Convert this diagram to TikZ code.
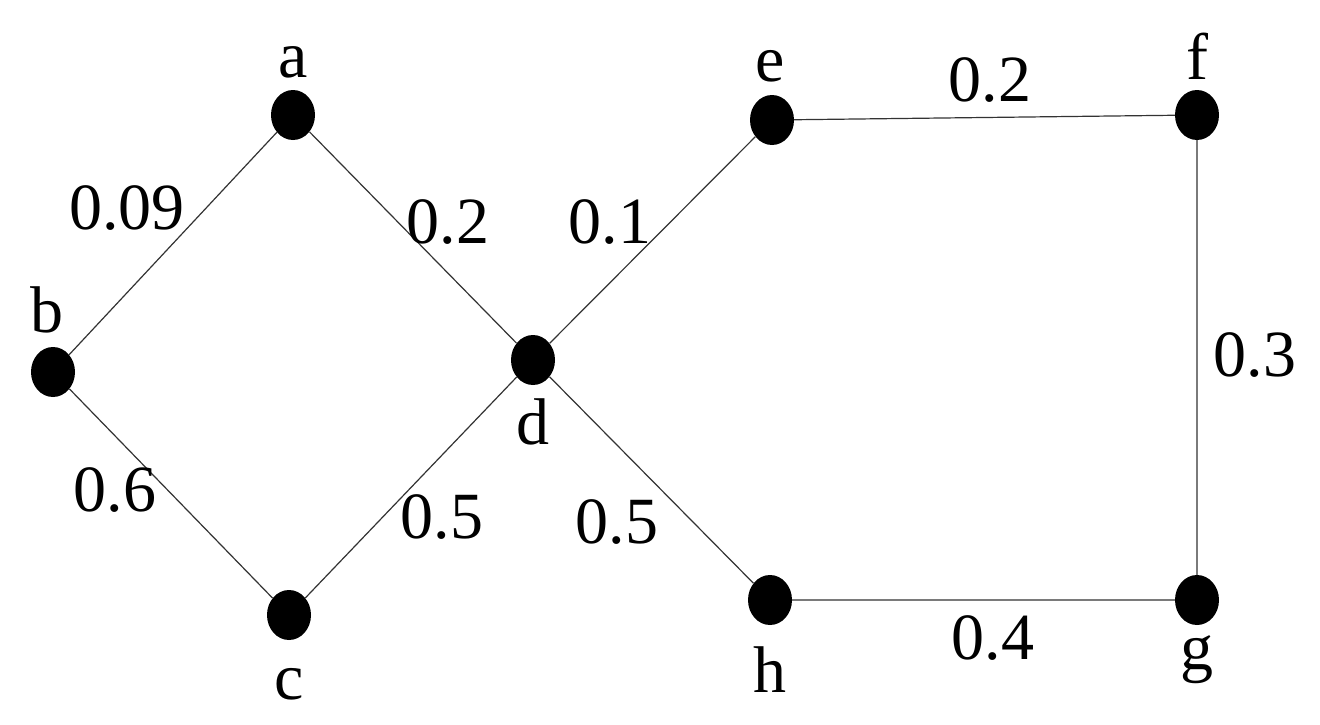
\documentclass[tikz,border=0pt]{standalone}
\usepackage{fontspec}
\setmainfont{Liberation Serif}
\usetikzlibrary{shapes.geometric}
\begin{document}
\begin{tikzpicture}[x=1pt,y=-1pt,
  vtx/.style={ellipse,fill=black,minimum width=44pt,minimum height=50pt,inner sep=0pt},
  lbl/.style={font=\fontsize{66}{70}\selectfont,inner sep=0pt},
  edge/.style={draw=black!80,line width=1.2pt}]
\useasboundingbox (0,0) rectangle (1320,725);
\fill[white] (0,0) rectangle (1320,725);
\node[vtx] (a) at (293,115) {};
\node[vtx] (b) at (53,372) {};
\node[vtx] (c) at (289,615) {};
\node[vtx] (d) at (533,360) {};
\node[vtx] (e) at (772,120) {};
\node[vtx] (f) at (1197,115) {};
\node[vtx] (g) at (1197,600) {};
\node[vtx] (h) at (770,600) {};
\draw[edge] (a)--(b) (a)--(d) (b)--(c) (c)--(d) (d)--(e) (d)--(h) (e)--(f) (f)--(g) (h)--(g);
\node[lbl] (la) at (293,62) {a};
\node[lbl] (lb) at (47,310) {b};
\node[lbl] (lc) at (289,684) {c};
\node[lbl] (ld) at (533,422) {d};
\node[lbl] (le) at (770,66) {e};
\node[lbl] (lf) at (1197,56) {f};
\node[lbl] (lg) at (1197,660) {g};
\node[lbl] (lh) at (770,670) {h};
\node[lbl] (w1) at (127,208) {0.09};
\node[lbl] (w2) at (448,222) {0.2};
\node[lbl] (w3) at (610,222) {0.1};
\node[lbl] (w4) at (115,490) {0.6};
\node[lbl] (w5) at (442,517) {0.5};
\node[lbl] (w6) at (617,522) {0.5};
\node[lbl] (w7) at (990,80) {0.2};
\node[lbl] (w8) at (1255,355) {0.3};
\node[lbl] (w9) at (993,638) {0.4};
\end{tikzpicture}
\end{document}
